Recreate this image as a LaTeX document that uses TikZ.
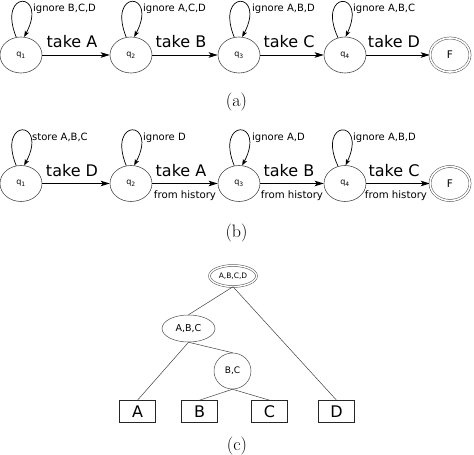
\documentclass[tikz,border=0pt]{standalone}
\usepackage{fontspec}
\newfontfamily\lab{DejaVu Sans}
\usetikzlibrary{shapes.geometric,arrows.meta}
\begin{document}
\begin{tikzpicture}[x=1pt,y=1pt,
 state/.style={ellipse,draw=black!70,line width=0.6pt,minimum width=42pt,minimum height=36pt,inner sep=0pt,font=\lab\fontsize{8}{9}\selectfont},
 final/.style={state,font=\lab\fontsize{10.5}{12}\selectfont,double,double distance=1.6pt,line width=0.5pt,minimum width=40pt,minimum height=34pt},
 arr/.style={-{Stealth[length=9pt,width=5.5pt,inset=2pt]},line width=0.8pt},
 looparr/.style={-{Stealth[length=6pt,width=4.5pt,inset=1.5pt]},line width=0.7pt},
 take/.style={font=\lab\fontsize{16}{18}\selectfont,anchor=base,inner sep=0pt},
 ign/.style={font=\lab\fontsize{10}{12}\selectfont,anchor=base west,inner sep=0pt},
 hist/.style={font=\lab\fontsize{10.2}{12}\selectfont,anchor=base,inner sep=0pt},
 capt/.style={font=\fontsize{18}{20}\selectfont,inner sep=0pt},
 setnode/.style={ellipse,draw=black!70,line width=0.5pt,inner sep=0pt},
 leaf/.style={rectangle,draw=black!85,line width=0.6pt,minimum width=36pt,minimum height=22pt,inner sep=0pt,font=\lab\fontsize{16}{18}\selectfont},
 treeline/.style={line width=0.5pt,draw=black!75}
]
\useasboundingbox (0,0) rectangle (474,455);

% ---------- (a) ----------
\node[state] (a1) at (21,400) {q\textsubscript{1}};
\node[state] (a2) at (131,400) {q\textsubscript{2}};
\node[state] (a3) at (239,400) {q\textsubscript{3}};
\node[state] (a4) at (345,400) {q\textsubscript{4}};
\node[final] (aF) at (450,400) {F};
\foreach \n in {a1,a2,a3}
  \draw[looparr] (\n.105) .. controls +(112:52) and +(62:52) .. (\n.80);
\draw[looparr] (a4.112) .. controls +(115:52) and +(65:52) .. (a4.88);
\draw[arr] (a1) -- (a2);
\draw[arr] (a2) -- (a3);
\draw[arr] (a3) -- (a4);
\draw[arr] (a4) -- (aF);
\node[take] (ta1) at (72,407) {take A};
\node[take] (ta2) at (181,407) {take B};
\node[take] (ta3) at (289,407) {take C};
\node[take] (ta4) at (394,407) {take D};
\node[ign] (ia1) at (33,443) {ignore B,C,D};
\node[ign] (ia2) at (143,443) {ignore A,C,D};
\node[ign] (ia3) at (252,443) {ignore A,B,D};
\node[ign] (ia4) at (353,443) {ignore A,B,C};
\node[capt] (capa) at (236.5,353) {(a)};

% ---------- (b) ----------
\node[state] (b1) at (21,271.5) {q\textsubscript{1}};
\node[state] (b2) at (131,271.5) {q\textsubscript{2}};
\node[state] (b3) at (239,271.5) {q\textsubscript{3}};
\node[state] (b4) at (345,271.5) {q\textsubscript{4}};
\node[final] (bF) at (450,271.5) {F};
\foreach \n in {b1,b2,b3}
  \draw[looparr] (\n.105) .. controls +(112:52) and +(62:52) .. (\n.80);
\draw[looparr] (b4.112) .. controls +(115:52) and +(65:52) .. (b4.88);
\draw[arr] (b1) -- (b2);
\draw[arr] (b2) -- (b3);
\draw[arr] (b3) -- (b4);
\draw[arr] (b4) -- (bF);
\node[take] (tb1) at (72,278) {take D};
\node[take] (tb2) at (181,278) {take A};
\node[take] (tb3) at (289,278) {take B};
\node[take] (tb4) at (394,278) {take C};
\node[hist] (hb2) at (185,256) {from history};
\node[hist] (hb3) at (292,256) {from history};
\node[hist] (hb4) at (396,256) {from history};
\node[ign] (ib1) at (32,314) {store A,B,C};
\node[ign] (ib2) at (143,314) {ignore D};
\node[ign] (ib3) at (252,314) {ignore A,D};
\node[ign] (ib4) at (353,314) {ignore A,B,D};
\node[capt] (capb) at (236.5,222) {(b)};

% ---------- (c) ----------
\node[setnode,double,double distance=1.4pt,minimum width=47pt,minimum height=21pt,font=\lab\fontsize{7.5}{9}\selectfont] (root) at (233,179) {A,B,C,D};
\node[setnode,minimum width=53pt,minimum height=27pt,font=\lab\fontsize{9.5}{11}\selectfont] (abc) at (188.5,126.5) {A,B,C};
\node[setnode,minimum width=37pt,minimum height=36pt,font=\lab\fontsize{9}{11}\selectfont] (bc) at (232.5,84) {B,C};
\node[leaf] (lA) at (137.5,43.5) {A};
\node[leaf] (lB) at (199.5,43.5) {B};
\node[leaf] (lC) at (269.5,43.5) {C};
\node[leaf] (lD) at (336.5,43.5) {D};
\draw[treeline] (root.south) -- (abc.north);
\draw[treeline] (root.south) -- (lD.north);
\draw[treeline] (abc.south) -- (lA.north);
\draw[treeline] (abc.south) -- (bc.north);
\draw[treeline] (bc.south) -- (lB.north);
\draw[treeline] (bc.south) -- (lC.north);
\node[capt] (capc) at (237,9) {(c)};
\end{tikzpicture}
\end{document}
